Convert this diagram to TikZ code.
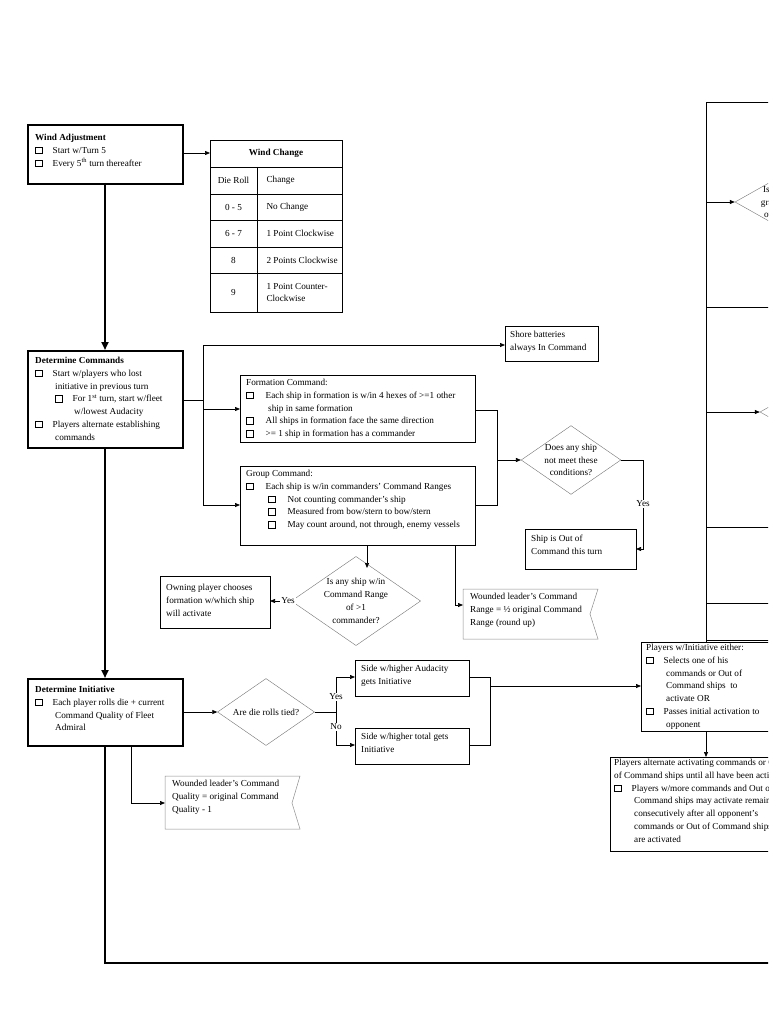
\documentclass[tikz,border=0pt]{standalone}
\usepackage{fontspec}
\setmainfont{Liberation Serif}
\usetikzlibrary{arrows.meta,shapes.geometric}
\newcommand{\cb}{\tikz[baseline=0pt]{\fill[black!70](0.9pt,-0.9pt) rectangle (7.2pt,5.4pt);\filldraw[fill=white,draw=black,line width=0.5pt](0,0) rectangle (6.3pt,6.3pt);}}
\begin{document}
\begin{tikzpicture}[x=1pt,y=-1pt,
  every node/.style={font=\fontsize{9.2}{12.8}\selectfont},
  box/.style={draw,line width=0.7pt,anchor=north west,inner sep=0pt},
  tbox/.style={draw,line width=2pt,anchor=north west,inner sep=0pt},
  txt/.style={anchor=north west,align=left,inner sep=0pt},
  dia/.style={draw=black!55,diamond,aspect=1.45,inner sep=0pt,align=center,line width=0.4pt},
  arr/.style={-{Triangle[length=5pt,width=4pt]},line width=0.7pt},
  ln/.style={line width=0.7pt},
  thick arr/.style={-{Triangle[length=8pt,width=7pt]},line width=2.2pt}]
\useasboundingbox (0,0) rectangle (768,1024);
\clip (0,0) rectangle (768,1024);
% Wind adjustment
\node[tbox,minimum width=155,minimum height=59] (wa) at (27,124) {};
\node[txt] (wat) at (35,134) {\textbf{Wind Adjustment}\\\cb\hspace{10pt}Start w/Turn 5\\\cb\hspace{10pt}Every 5\textsuperscript{th} turn thereafter};
% table
\node[box,minimum width=132,minimum height=172,line width=0.6pt] (wc) at (210,140) {};
\foreach \y in {167,194,220,247,273} \draw[line width=0.6pt] (210,\y) -- (342,\y);
\draw[line width=0.6pt] (257,167) -- (257,312);
\node (h) at (276,153.5) {\textbf{Wind Change}};
\node (r1a) at (233.5,180.5) {Die Roll}; \node[anchor=west] (r1b) at (263,180.5) {Change};
\node (r2a) at (233.5,207) {0 - 5}; \node[anchor=west] (r2b) at (263,207) {No Change};
\node (r3a) at (233.5,233.5) {6 - 7}; \node[anchor=west] (r3b) at (263,233.5) {1 Point Clockwise};
\node (r4a) at (233.5,260) {8}; \node[anchor=west] (r4b) at (263,260) {2 Points Clockwise};
\node (r5a) at (233.5,292.5) {9}; \node[anchor=west,align=left] (r5b) at (263,292.5) {1 Point Counter-\\Clockwise};
\draw[arr] (182,153) -- (210,153);
% Determine commands
\node[tbox,minimum width=155,minimum height=97] (dc) at (27,350) {};
\node[txt] (dct) at (35,357) {\textbf{Determine Commands}\\\cb\hspace{10pt}Start w/players who lost\\\hspace{20pt}initiative in previous turn\\\hspace{20pt}\cb\hspace{10pt}For 1\textsuperscript{st} turn, start w/fleet\\\hspace{39pt}w/lowest Audacity\\\cb\hspace{10pt}Players alternate establishing\\\hspace{20pt}commands};
\draw[thick arr] (105,183) -- (105,350);
% shore
\node[box,minimum width=93,minimum height=35] (sh) at (505,326) {};
\node[txt] (sht) at (510,331) {Shore batteries\\always In Command};
% formation
\node[box,minimum width=235,minimum height=67] (fc) at (240,375) {};
\node[txt] (fct) at (246,379) {Formation Command:\\\cb\hspace{12pt}Each ship in formation is w/in 4 hexes of >=1 other\\\hspace{22pt}ship in same formation\\\cb\hspace{12pt}All ships in formation face the same direction\\\cb\hspace{12pt}>= 1 ship in formation has a commander};
% group
\node[box,minimum width=235,minimum height=79] (gc) at (240,466) {};
\node[txt] (gct) at (246,470) {Group Command:\\\cb\hspace{12pt}Each ship is w/in commanders' Command Ranges\\\hspace{22pt}\cb\hspace{12pt}Not counting commander's ship\\\hspace{22pt}\cb\hspace{12pt}Measured from bow/stern to bow/stern\\\hspace{22pt}\cb\hspace{12pt}May count around, not through, enemy vessels};
\coordinate (j1) at (203,400);
\draw[ln] (182,400) -- (j1);
\draw[arr] (203,400) |- (sh.west|-0,345);
\draw[arr] (203,400) |- (240,409);
\draw[arr] (203,400) |- (240,505);
% does any ship
\node[dia,minimum width=98,minimum height=67] (d1) at (571,460) {Does any ship\\not meet these\\conditions?};
\draw[ln] (475,410) -| (497,505) -- (475,505);
\draw[arr] (497,460) -- (d1.west);
\node[box,minimum width=111,minimum height=40] (oc) at (525,529) {};
\node[txt] (oct) at (531,535) {Ship is Out of\\Command this turn};
\draw[arr] (d1.east) -| (643,549) -- (636,549);
\node[fill=white,inner sep=1pt] (y1) at (643,504) {Yes};
% is any ship
\node[dia,minimum width=98,minimum height=66] (d2) at (356,601) {Is any ship w/in\\Command Range\\of >1\\commander?};
\draw[arr] (367,545) -- (367,568);
\node[box,minimum width=110,minimum height=52] (ow) at (160,576) {};
\node[txt] (owt) at (166,584) {Owning player chooses\\formation w/which ship\\will activate};
\draw[arr] (d2.west) -- (270,601);
\node[fill=white,inner sep=1pt] (y2) at (288,601) {Yes};
% wounded 1
\draw[draw=black!45,line width=0.5pt] (463,589) -- (598,589) -- (590,614) -- (598,639) -- (463,639) -- cycle;
\node[txt] (w1) at (470,593) {Wounded leader's Command\\Range = \textonehalf\ original Command\\Range (round up)};
\draw[arr] (455,545) |- (463,605);
% determine initiative
\draw[thick arr] (105,447) -- (105,678);
\node[tbox,minimum width=155,minimum height=67] (di) at (27,678) {};
\node[txt] (dit) at (35,686) {\textbf{Determine Initiative}\\\cb\hspace{10pt}Each player rolls die + current\\\hspace{20pt}Command Quality of Fleet\\\hspace{20pt}Admiral};
\node[dia,minimum width=97,minimum height=67] (d3) at (266,712) {Are die rolls tied?};
\draw[arr] (182,712) -- (d3.west);
\node[box,minimum width=114,minimum height=36] (sa) at (355,660) {};
\node[txt] (sat) at (361,665) {Side w/higher Audacity\\gets Initiative};
\node[box,minimum width=114,minimum height=36] (st) at (355,728) {};
\node[txt] (stt) at (361,733) {Side w/higher total gets\\Initiative};
\draw[ln] (d3.east) -- (336,712);
\draw[arr] (336,712) |- (355,677);
\draw[arr] (336,712) |- (355,745);
\node[fill=white,inner sep=1pt] (yy) at (336,697) {Yes};
\node[fill=white,inner sep=1pt] (nn) at (336,727) {No};
\draw[ln] (469,677) -| (490,745) -- (469,745);
\node[box,minimum width=140,minimum height=89] (pi) at (641,642) {};
\node[txt] (pit) at (646,644) {Players w/Initiative either:\\\cb\hspace{10pt}Selects one of his\\\hspace{20pt}commands or Out of\\\hspace{20pt}Command ships\ \ to\\\hspace{20pt}activate OR\\\cb\hspace{10pt}Passes initial activation to\\\hspace{20pt}opponent};
\draw[arr] (490,686) -- (641,686);
\node[box,minimum width=170,minimum height=94] (pa) at (610,757) {};
\node[txt] (pat) at (614,759) {Players alternate activating commands or Out\\of Command ships until all have been activated\\\cb\hspace{10pt}Players w/more commands and Out of\\\hspace{20pt}Command ships may activate remaining\\\hspace{20pt}consecutively after all opponent's\\\hspace{20pt}commands or Out of Command ships\\\hspace{20pt}are activated};
\draw[arr] (706,731) -- (706,757);
% wounded 2
\draw[draw=black!45,line width=0.5pt] (165,776) -- (300,776) -- (292,803) -- (300,829) -- (165,829) -- cycle;
\node[txt] (w2) at (172,780) {Wounded leader's Command\\Quality = original Command\\Quality - 1};
\draw[arr] (131,745) |- (165,803);
% right panel
\node[box,minimum width=80,minimum height=538] (rp) at (706,102) {};
\foreach \y in {307,527,603} \draw[ln] (706,\y) -- (790,\y);
\draw[ln] (706,640) -- (706,642);
\node[dia,minimum width=110,minimum height=62] (d4) at (790,202) {};
\node[align=center,inner sep=0pt] (d4t) at (782,202) {Is the ship\\grappled or\\otherwise};
\draw[arr] (706,202) -- (d4.west);
\node[dia,minimum width=110,minimum height=62] (d5) at (815,412) {};
\draw[arr] (706,412) -- (d5.west);
% loop
\draw[line width=2.2pt] (105,745) -- (105,963) -- (790,963);
\end{tikzpicture}
\end{document}
